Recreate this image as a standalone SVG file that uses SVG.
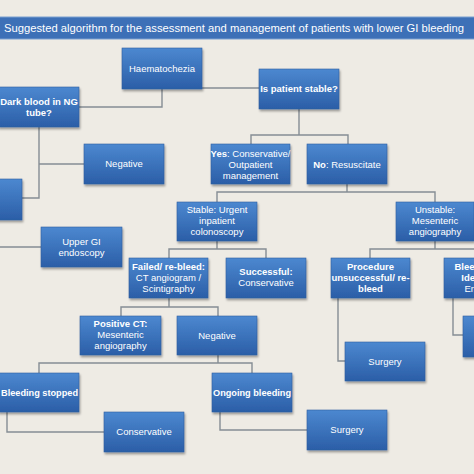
<svg xmlns="http://www.w3.org/2000/svg" width="474" height="474" viewBox="0 0 474 474">
<defs>
<linearGradient id="bg" x1="0" y1="0" x2="0" y2="1">
<stop offset="0" stop-color="#4c88d0"/>
<stop offset="1" stop-color="#2b5ea7"/>
</linearGradient>
<filter id="sh" x="-20%" y="-20%" width="140%" height="150%">
<feDropShadow dx="1" dy="2" stdDeviation="1.2" flood-color="#000" flood-opacity="0.35"/>
</filter>
</defs>
<style>
.box{fill:url(#bg);stroke:#2f5f9f;stroke-width:0.6;filter:url(#sh)}
.t{font-family:"Liberation Sans",Arial,sans-serif;font-size:9.5px;fill:#ffffff;text-anchor:middle}
.b{font-weight:bold}
.c{fill:none;stroke:#858d94;stroke-width:1.4}
</style>
<rect x="0" y="0" width="474" height="474" fill="#eeebe4"/>
<g id="title">
<rect x="-1" y="17" width="476" height="22" fill="#3d70b7" stroke="#7b9fcf" stroke-width="1"/>
<text x="4" y="32" font-family="'Liberation Sans',Arial,sans-serif" font-size="10.8" fill="#ffffff" textLength="460" lengthAdjust="spacingAndGlyphs">Suggested algorithm for the assessment and management of patients with lower GI bleeding</text>
</g>
<g id="connectors">
<path class="c" d="M162,89 V107 H79"/>
<path class="c" d="M202,88 H259"/>
<path class="c" d="M299,109 V135 M251,144 V135 H348 V144"/>
<path class="c" d="M39,127 V198 H22 M39,164 H84"/>
<path class="c" d="M0,247 H41"/>
<path class="c" d="M347,184 V192 M217,202 V192 H435 V202"/>
<path class="c" d="M217,241 V249 M169,258 V249 H266 V258"/>
<path class="c" d="M435,241 V249 M370,258 V249 H474"/>
<path class="c" d="M453,298 V335 H463"/>
<path class="c" d="M338,298 V361 H345"/>
<path class="c" d="M169,298 V307 M121,316 V307 H218 V316"/>
<path class="c" d="M218,355 V363 M39,373 V363 H252 V373"/>
<path class="c" d="M7,412 V432 H104"/>
<path class="c" d="M220,412 V430 H307"/>
</g>
<g id="haematochezia"><rect class="box" x="122" y="48" width="80" height="41"/><text class="t" x="162" y="72">Haematochezia</text></g>
<g id="is-stable"><rect class="box" x="259" y="69" width="80" height="40"/><text class="t b" x="299" y="92">Is patient stable?</text></g>
<g id="dark-blood"><rect class="box" x="-2" y="87" width="81" height="40"/><text class="t b" x="39" y="105">Dark blood in NG</text><text class="t b" x="39" y="116">tube?</text></g>
<g id="negative-1"><rect class="box" x="84" y="144" width="80" height="40"/><text class="t" x="124" y="167">Negative</text></g>
<g id="yes"><rect class="box" x="211" y="144" width="79" height="40"/><text class="t" x="250.5" y="157"><tspan class="b">Yes</tspan>: Conservative/</text><text class="t" x="250.5" y="168">Outpatient</text><text class="t" x="250.5" y="179">management</text></g>
<g id="no"><rect class="box" x="307" y="144" width="80" height="40"/><text class="t" x="347" y="168"><tspan class="b">No</tspan>: Resuscitate</text></g>
<g id="left-box"><rect class="box" x="-60" y="179" width="82" height="41"/></g>
<g id="stable-urgent"><rect class="box" x="177" y="202" width="80" height="39"/><text class="t" x="217" y="213">Stable: Urgent</text><text class="t" x="217" y="224">inpatient</text><text class="t" x="217" y="235">colonoscopy</text></g>
<g id="unstable"><rect class="box" x="396" y="202" width="78" height="39"/><text class="t" x="435" y="213">Unstable:</text><text class="t" x="435" y="224">Mesenteric</text><text class="t" x="435" y="235">angiography</text></g>
<g id="upper-gi"><rect class="box" x="41" y="227" width="81" height="40"/><text class="t" x="81.5" y="245">Upper GI</text><text class="t" x="81.5" y="256">endoscopy</text></g>
<g id="failed"><rect class="box" x="129" y="258" width="79" height="40"/><text class="t b" x="168.5" y="270">Failed/ re-bleed:</text><text class="t" x="168.5" y="281">CT angiogram /</text><text class="t" x="168.5" y="292">Scintigraphy</text></g>
<g id="successful"><rect class="box" x="226" y="258" width="80" height="40"/><text class="t b" x="266" y="275">Successful:</text><text class="t" x="266" y="286">Conservative</text></g>
<g id="procedure"><rect class="box" x="331" y="258" width="79" height="40"/><text class="t b" x="370.5" y="270">Procedure</text><text class="t b" x="370.5" y="281">unsuccessful/ re-</text><text class="t b" x="370.5" y="292">bleed</text></g>
<g id="bleed-identified"><rect class="box" x="444" y="258" width="80" height="40"/><text class="t b" x="484" y="270">Bleeding site</text><text class="t b" x="484" y="281">Identified:</text><text class="t" x="484" y="292">Embolise</text></g>
<g id="right-low"><rect class="box" x="463" y="316" width="80" height="41"/></g>
<g id="positive-ct"><rect class="box" x="80" y="316" width="81" height="39"/><text class="t b" x="120.5" y="327">Positive CT:</text><text class="t" x="120.5" y="338">Mesenteric</text><text class="t" x="120.5" y="349">angiography</text></g>
<g id="negative-2"><rect class="box" x="177" y="316" width="80" height="39"/><text class="t" x="217" y="339">Negative</text></g>
<g id="surgery-1"><rect class="box" x="345" y="342" width="80" height="39"/><text class="t" x="385" y="365">Surgery</text></g>
<g id="bleeding-stopped"><rect class="box" x="-2" y="373" width="81" height="39"/><text class="t b" x="39.5" y="396" textLength="77" lengthAdjust="spacingAndGlyphs">Bleeding stopped</text></g>
<g id="ongoing"><rect class="box" x="212" y="373" width="80" height="39"/><text class="t b" x="252" y="396" textLength="78" lengthAdjust="spacingAndGlyphs">Ongoing bleeding</text></g>
<g id="conservative"><rect class="box" x="104" y="412" width="80" height="40"/><text class="t" x="144" y="435">Conservative</text></g>
<g id="surgery-2"><rect class="box" x="307" y="410" width="80" height="40"/><text class="t" x="347" y="433">Surgery</text></g>
</svg>
